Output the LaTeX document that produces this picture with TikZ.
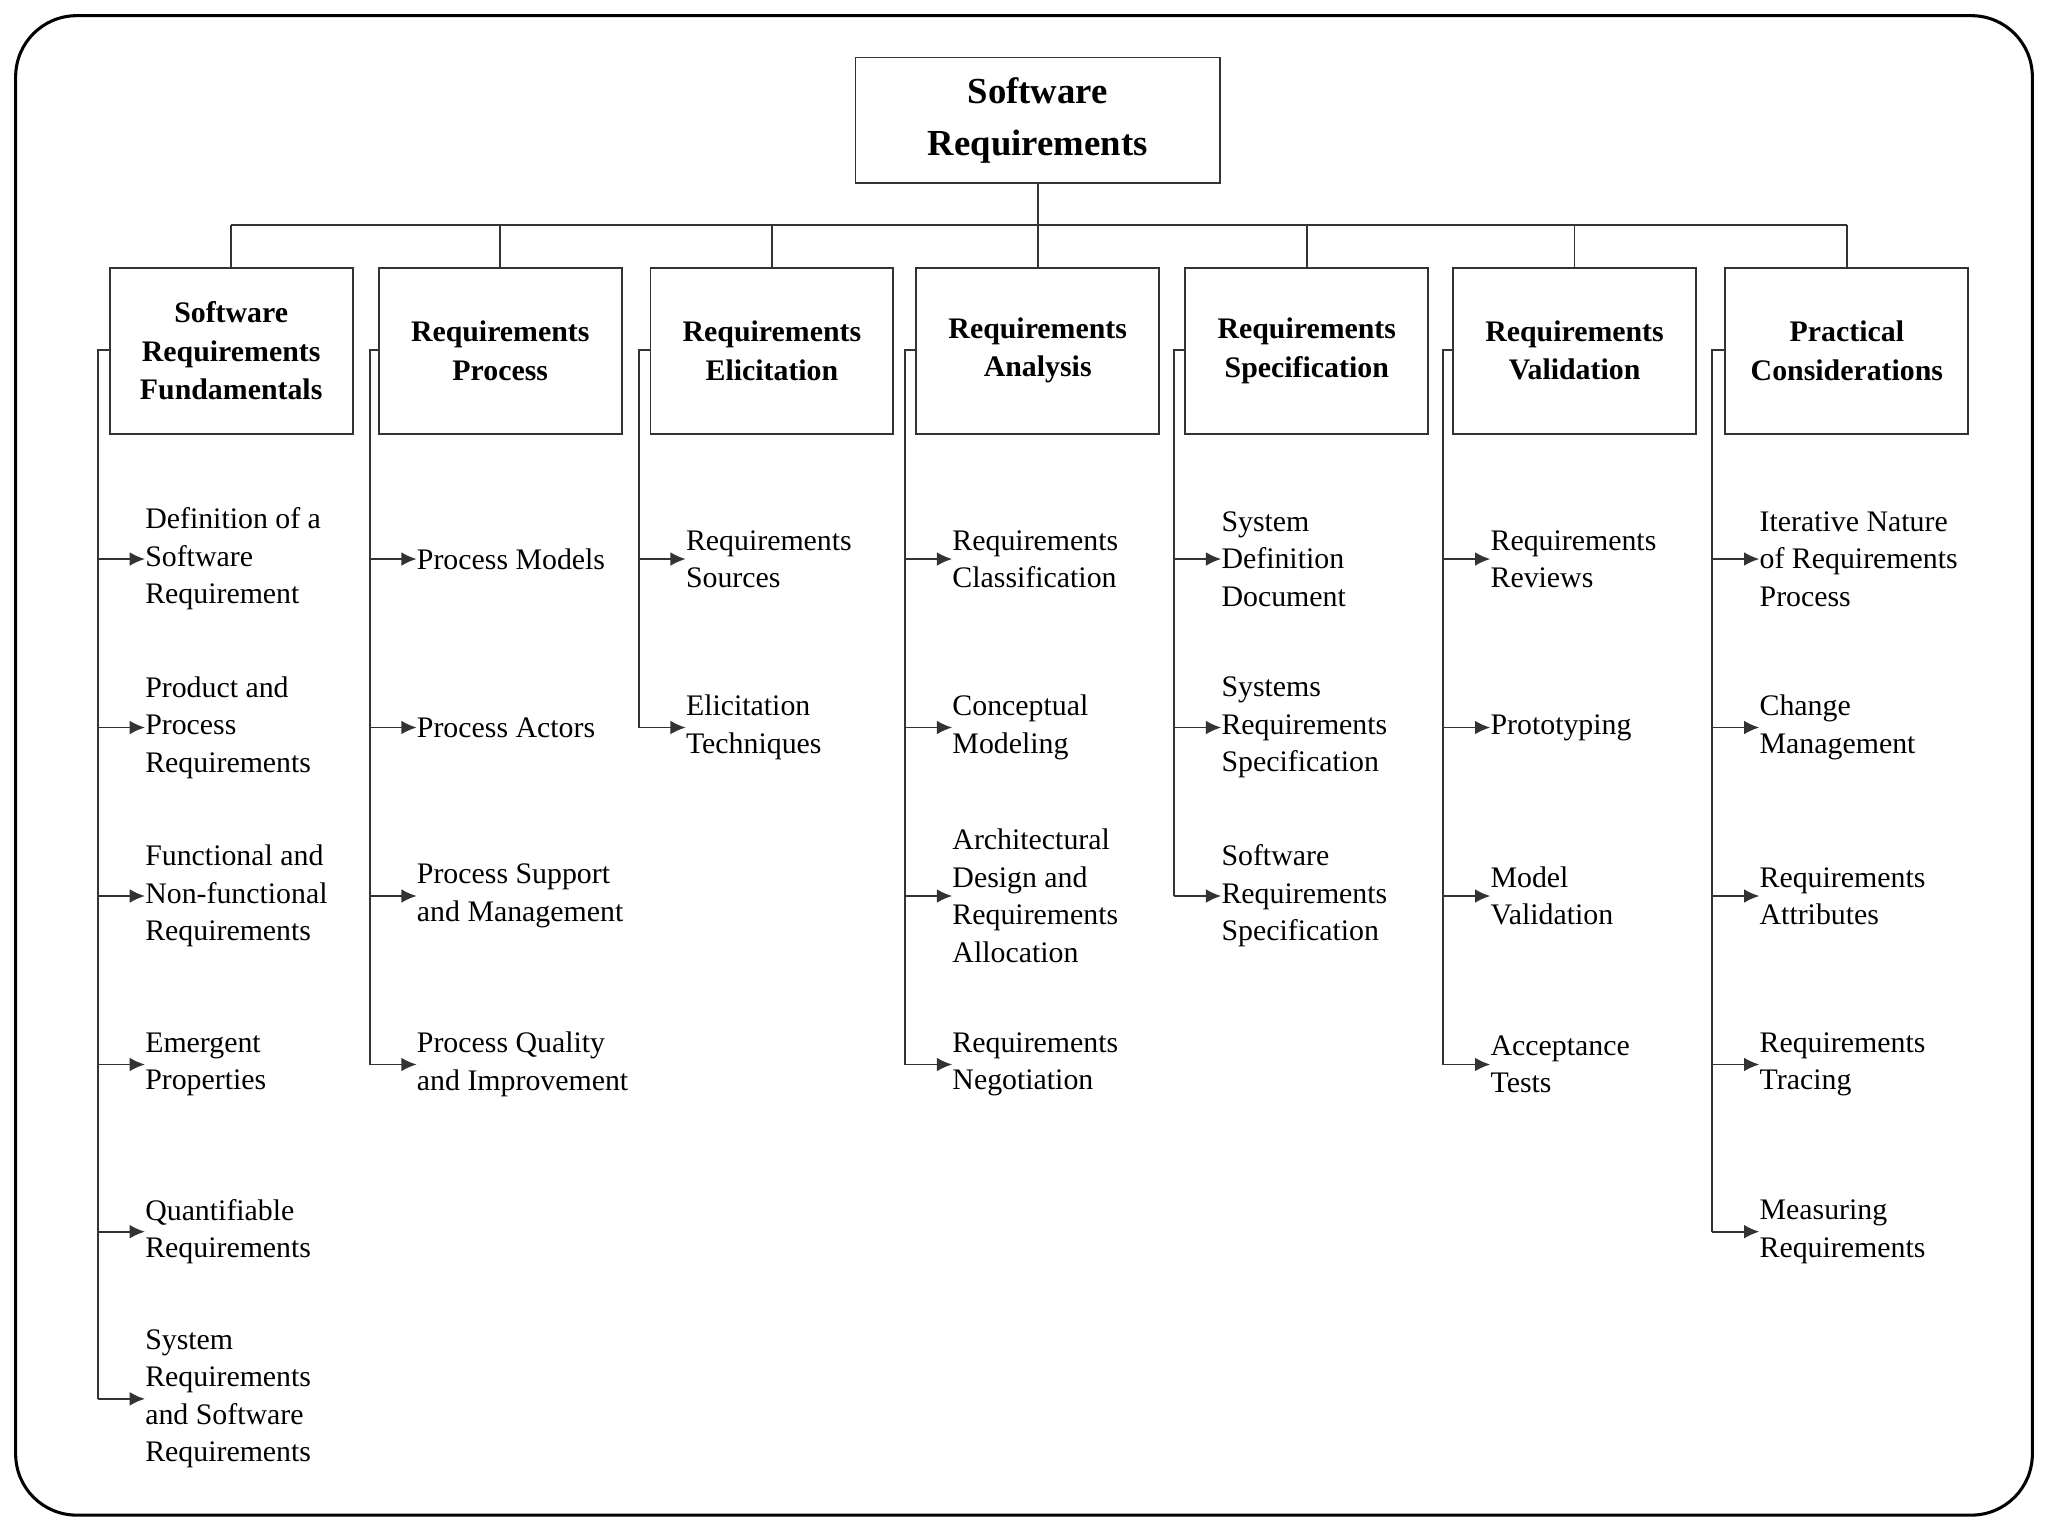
\documentclass[tikz,border=0pt]{standalone}
\usepackage{fontspec}
\setmainfont{Liberation Serif}
\usetikzlibrary{arrows.meta}
\begin{document}
\begin{tikzpicture}[x=0.03cm,y=-0.03cm,
  line/.style={line width=1.2pt,draw=black!80},
  hdr/.style={draw=black!80,line width=1.2pt,minimum width=5.58cm,minimum height=3.81cm,align=center,inner sep=2pt,font=\fontsize{19.5}{25}\selectfont\bfseries},
  item/.style={anchor=west,align=left,inner sep=0pt,font=\fontsize{19.5}{24.5}\selectfont},
  arr/.style={line,-{Latex[length=10pt,width=9pt]}}]
\useasboundingbox (0,0) rectangle (1568,1176);
\draw[line width=2pt,rounded corners=1.4cm] (12,12) rectangle (1556,1160);
\node[draw=black!80,line width=1.2pt,minimum width=8.37cm,minimum height=2.88cm,align=center,font=\fontsize{24}{34}\selectfont\bfseries] (root) at (794.5,92) {Software\\Requirements};
\coordinate (busL) at (177,172);
\coordinate (busR) at (1414,172);
\draw[line] (busL) -- (busR);
\draw[line] (root.south) -- (794.5,172);
\foreach \i/\cx/\txt in {1/177/{Software\\Requirements\\Fundamentals},2/383/{Requirements\\Process},3/591/{Requirements\\Elicitation},4/794.5/{Requirements\\Analysis},5/1000.5/{Requirements\\Specification},6/1205.5/{Requirements\\Validation},7/1414/{Practical\\Considerations}}{
  \node[hdr] (h\i) at (\cx,268.5) {\txt};
  \draw[line] (\cx,172) -- (h\i.north);
}
% items: column / item / y / text
\newcommand\colitems[3]{% #1 col index, #2 spine x, #3 list
  \foreach \j/\yy/\t in {#3}{
    \node[item] (c#1-\j) at (#2+36,\yy) {\t};
    \draw[arr] (#2,\yy) -- (c#1-\j.west);
  }}
\colitems{1}{75}{1/428/{Definition of a\\Software\\Requirement},2/557/{Product and\\Process\\Requirements},3/686/{Functional and\\Non-functional\\Requirements},4/815/{Emergent\\Properties},5/943/{Quantifiable\\Requirements},6/1071/{System\\Requirements\\and Software\\Requirements}}
\colitems{2}{283}{1/428/{Process Models},2/557/{Process Actors},3/686/{Process Support\\and Management},4/815/{Process Quality\\and Improvement}}
\colitems{3}{489}{1/428/{Requirements\\Sources},2/557/{Elicitation\\Techniques}}
\colitems{4}{693}{1/428/{Requirements\\Classification},2/557/{Conceptual\\Modeling},3/686/{Architectural\\Design and\\Requirements\\Allocation},4/815/{Requirements\\Negotiation}}
\colitems{5}{899}{1/428/{System\\Definition\\Document},2/557/{Systems\\Requirements\\Specification},3/686/{Software\\Requirements\\Specification}}
\colitems{6}{1105}{1/428/{Requirements\\Reviews},2/557/{Prototyping},3/686/{Model\\Validation},4/815/{Acceptance\\Tests}}
\colitems{7}{1311}{1/428/{Iterative Nature\\of Requirements\\Process},2/557/{Change\\Management},3/686/{Requirements\\Attributes},4/815/{Requirements\\Tracing},5/943/{Measuring\\Requirements}}
% spines
\foreach \i/\sx/\ey in {1/75/1071,2/283/815,3/489/557,4/693/815,5/899/686,6/1105/815,7/1311/943}{
  \draw[line] (h\i.west |- 0,268) -- (\sx,268) -- (\sx,\ey);
}
\end{tikzpicture}
\end{document}
